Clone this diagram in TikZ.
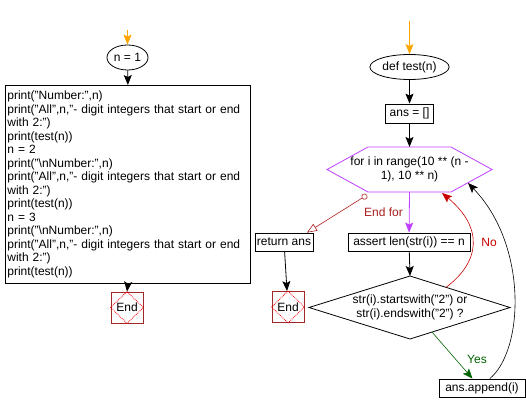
\documentclass[tikz,border=0pt]{standalone}
\usepackage{fontspec}
\setmainfont{Liberation Sans}
\usetikzlibrary{shapes.geometric,arrows.meta,calc}
\definecolor{orng}{RGB}{255,165,0}
\definecolor{purp}{RGB}{191,64,255}
\definecolor{endred}{RGB}{160,40,40}
\definecolor{dred}{RGB}{170,30,30}
\definecolor{nored}{RGB}{200,0,0}
\definecolor{dgreen}{RGB}{0,100,0}
\begin{document}
\begin{tikzpicture}[x=1pt,y=-1pt, font=\fontsize{12}{13.5}\selectfont, line width=0.8pt,
  box/.style={draw, rectangle, inner sep=2pt, minimum height=19pt},
  term/.style={draw, ellipse, inner sep=1pt, minimum height=25pt},
  endbox/.style={draw=endred, rectangle, minimum width=32pt, minimum height=31pt, inner sep=0pt},
  arr/.style={-{Stealth[length=10pt,width=8pt,inset=2pt]}},
  thinarr/.style={line width=0.6pt, -{Stealth[length=10pt,width=8pt,inset=2pt]}},
  enddiam/.style={red, densely dotted, line width=0.8pt},
]
\useasboundingbox (0,0) rectangle (526,412);

% left column
\coordinate (s1) at (127.5,30);
\node[term, minimum width=41pt] (n1) at (127.5,57.5) {n = 1};
\node[draw, anchor=north west, text width=241pt, align=left, inner xsep=2pt, inner ysep=3pt, minimum height=198pt] (main) at (5,85) {%
print("Number:",n)\\
print("All",n,"- digit integers that start or end\\
with 2:")\\
print(test(n))\\
n = 2\\
print("\textbackslash nNumber:",n)\\
print("All",n,"- digit integers that start or end\\
with 2:")\\
print(test(n))\\
n = 3\\
print("\textbackslash nNumber:",n)\\
print("All",n,"- digit integers that start or end\\
with 2:")\\
print(test(n))};
\node[endbox] (end1) at (127,307.5) {End};
\draw[enddiam] (end1.north) -- (end1.east) -- (end1.south) -- (end1.west) -- cycle;

\draw[arr, orng] (s1) -- (n1);
\draw[arr] (n1) -- (main.north);
\draw[arr] (main.south) -- (end1.north);

% right column
\coordinate (s2) at (409.5,21);
\node[term, minimum width=72pt] (def) at (409.5,67) {def test(n)};
\node[box, minimum width=48pt] (ans) at (409.5,113.5) {ans = []};
\node[align=center, inner sep=0pt] (hex) at (409.5,169.5) {for i in range(10 ** (n -\\1), 10 ** n)};
\coordinate (hl) at (327,169.5);
\coordinate (htl) at (368,147);
\coordinate (htr) at (451,147);
\coordinate (hr) at (492,169.5);
\coordinate (hbr) at (451,192);
\coordinate (hbl) at (368,192);
\coordinate (hext) at (409.5,147);
\coordinate (hexb) at (409.5,192);
\draw[purp] (hl) -- (htl) -- (htr) -- (hr) -- (hbr) -- (hbl) -- cycle;

\node[box, minimum width=122pt, minimum height=18pt] (assert) at (409,242) {assert len(str(i)) == n};
\node[box, minimum width=54pt, minimum height=18pt] (ret) at (284,242) {return ans};
\node[endbox] (end2) at (288,307) {End};
\draw[enddiam] (end2.north) -- (end2.east) -- (end2.south) -- (end2.west) -- cycle;

\node[align=center, inner sep=0pt] (dec) at (410,307.5) {str(i).startswith("2") or\\str(i).endswith("2") ?};
\coordinate (dN) at (410,276);
\coordinate (dE) at (510,307.5);
\coordinate (dS) at (410,339);
\coordinate (dW) at (309,307.5);
\draw (dN) -- (dE) -- (dS) -- (dW) -- cycle;

\node[box, minimum width=86pt, minimum height=18pt] (app) at (482,388) {ans.append(i)};

\draw[arr, orng] (s2) -- (def);
\draw[arr] (def) -- (ans);
\draw[arr] (ans) -- (hext);
\draw[arr, purp] (hexb) -- (assert);
\draw[arr] (assert) -- (dN);
\draw[arr] (ret) -- (end2);

% End for
\coordinate (efs) at (367,195);
\coordinate (eft) at ($(ret.north east)!0.11!(ret.north west)$);
\draw[dred, line width=0.6pt, {Circle[open,length=6pt]}-{Triangle[open,length=10pt,width=8pt]}] (efs) -- (eft);
\node[text=dred] (eflab) at (383.5,212) {End for};

% Yes
\coordinate (ys) at ($(dS)!0.22!(dE)$);
\coordinate (yt) at ($(app.north west)!0.39!(app.north east)$);
\draw[thinarr, dgreen] (ys) -- (yt);
\node[text=dgreen] (ylab) at (477,359) {Yes};

% No
\coordinate (ns) at ($(dN)!0.36!(dE)$);
\coordinate (nt) at (442,193);
\draw[thinarr, nored] (ns) .. controls (480,262) and (484,228) .. (nt);
\node[text=nored] (nlab) at (489,242) {No};

% loop back
\coordinate (ls) at ($(app.north west)!0.59!(app.north east)$);
\coordinate (lt) at (468,183);
\draw[thinarr] (ls) .. controls (524,350) and (528,245) .. (lt);
\end{tikzpicture}
\end{document}
